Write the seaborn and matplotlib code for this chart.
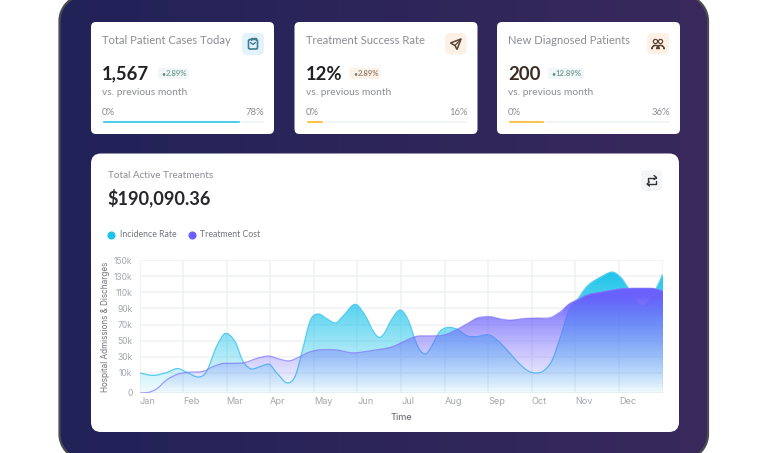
import numpy as np
import pandas as pd
import matplotlib.pyplot as plt
from matplotlib.patches import FancyBboxPatch, Polygon, Circle, Wedge, PathPatch
from matplotlib.path import Path
from matplotlib.colors import to_rgb
import seaborn as sns

# chart values (in thousands), x is in months from Jan = 0
incidence_x = [0, .31, .62, .87, 1.08, 1.35, 1.54, 1.77, 1.98, 2.19, 2.38, 2.59, 2.77, 2.96, 3.15, 3.40, 3.57, 3.72, 3.92, 4.11, 4.30, 4.49, 4.68, 4.95, 5.18, 5.37, 5.51, 5.64, 5.75, 5.98, 6.17, 6.33, 6.44, 6.56, 6.67, 6.79, 6.90, 7.10, 7.29, 7.52, 7.71, 7.98, 8.21, 8.44, 8.67, 8.90, 9.09, 9.28, 9.47, 9.66, 9.85, 10.05, 10.28, 10.59, 10.85, 11.05, 11.20, 11.35, 11.55, 11.72, 11.87, 12]
incidence = [10, 8.8, 10.5, 15.5, 11, 8, 12, 43, 59, 49, 24, 15, 18, 21, 10, 5, 8.3, 34, 75, 83, 77, 72, 81, 95, 81, 61, 54, 61, 73, 88, 75, 50, 38, 33.6, 40, 52, 62, 66.5, 64, 56, 55, 57.5, 50.6, 38, 24, 13, 10, 13, 26, 55, 87, 101, 118, 129, 135, 128, 116, 102, 93, 102, 116, 132]
cost_x = [0, .2, .39, .62, .89, 1.16, 1.46, 1.69, 1.96, 2.15, 2.42, 2.69, 2.96, 3.19, 3.42, 3.65, 3.92, 4.22, 4.53, 4.91, 5.30, 5.75, 5.98, 6.21, 6.44, 6.67, 6.98, 7.21, 7.52, 7.75, 8.02, 8.28, 8.51, 8.82, 9.13, 9.43, 9.66, 9.85, 10.05, 10.28, 10.58, 11.0, 11.43, 11.73, 12]
cost = [0, .3, 2, 6.5, 9.5, 11, 12, 18, 22, 22, 23, 28, 31, 27.5, 25, 29.5, 36.4, 39, 38.5, 35, 37.6, 41.7, 46.6, 52.7, 56, 56, 57, 62, 71, 78, 80, 77, 75.4, 77.5, 78, 78.7, 86, 95, 101, 107, 110, 114, 115, 115, 112]
months = ["Jan", "Feb", "Mar", "Apr", "May", "Jun", "Jul", "Aug", "Sep", "Oct", "Nov", "Dec"]
y_ticks = [0, 10, 30, 50, 70, 90, 110, 130, 150]
y_labels = ["0", "10k", "30k", "50k", "70k", "90k", "110k", "130k", "150k"]

card_titles = ["Total Patient Cases Today", "Treatment Success Rate", "New Diagnosed Patients"]
card_values = ["1,567", "12%", "200"]
card_changes = ["2.89%", "2.89%", "12.89%"]
card_right = ["78%", "16%", "36%"]
card_fill = [0.85, 0.105, 0.22]

CYAN = "#1ec4ea"
PURPLE = "#6a60fb"
GREY = "#8b8d92"
SANS = ["Lato", "DejaVu Sans"]
CHART = ["Inter", "DejaVu Sans"]

sns.set_theme(style="white")
W, H = 768, 453
fig = plt.figure(figsize=(W / 100, H / 100), dpi=100, facecolor="white")

# page axes in pixel coordinates
bg = fig.add_axes([0, 0, 1, 1], zorder=0)
bg.set_xlim(0, W)
bg.set_ylim(H, 0)
bg.axis("off")


def box(x0, y0, x1, y1, r, **kw):
    p = FancyBboxPatch((x0 + r, y0 + r), x1 - x0 - 2 * r, y1 - y0 - 2 * r,
                       boxstyle=f"round,pad={r},rounding_size={r}", **kw)
    bg.add_patch(p)
    return p


def rounded_outline(x0, y0, x1, y1, r):
    a = np.linspace(0, np.pi / 2, 16)
    c, s = np.cos(a), np.sin(a)
    return np.vstack([
        np.c_[x1 - r + r * c, y0 + r - r * s][::-1] * 1,
        np.c_[x1 - r + r * c, y1 - r + r * s],
        np.c_[x0 + r - r * s, y1 - r + r * c],
        np.c_[x0 + r - r * c, y0 + r - r * s],
    ])


outline = rounded_outline(59.5, -5, 708, 460, 26)
panel = Polygon(outline, closed=True, fc="none", ec="#4b4b52", lw=1.6, zorder=2)
bg.add_patch(panel)
left, right = np.array(to_rgb("#212258")), np.array(to_rgb("#39295c"))
t = np.linspace(0, 1, 200)[None, :, None]
grad = bg.imshow(left + (right - left) * t, extent=(59, 708, 460, -5), aspect="auto", zorder=1)
grad.set_clip_path(panel)
bg.set_xlim(0, W)
bg.set_ylim(H, 0)

# small cards
card_x = [91, 294.5, 497]
for i, x in enumerate(card_x):
    box(x, 22, x + 183, 134, 5, fc="white", ec="none", zorder=3)
    bg.text(x + 11, 41, card_titles[i], family=SANS, fontsize=8.15, color=GREY, va="center", zorder=5)
    bg.text(x + 11, 74, card_values[i], family=SANS, fontsize=13.3, weight="bold",
            color="#3a2c22" if i == 2 else "#222226", va="center", zorder=5)
    bg.text(x + 11, 92.5, "vs. previous month", family=SANS, fontsize=7.35, color=GREY, va="center", zorder=5)
    bg.text(x + 11, 112.5, "0%", family=SANS, fontsize=6.8, color=GREY, va="center", zorder=5)
    bg.text(x + 173, 112.5, card_right[i], family=SANS, fontsize=6.8, color=GREY, va="center", ha="right", zorder=5)
    tag_x = [158, 349.5, 548][i]
    tag_w = [31, 31, 36][i]
    box(tag_x, 68, tag_x + tag_w, 79, 2, fc="#fdf2e8" if i == 1 else "#f1f6f9", ec="none", zorder=4)
    bg.text(tag_x + 3.5, 73.5, "•", family=SANS, fontsize=5, color="#5b8a78", va="center", zorder=5)
    bg.text(tag_x + 8, 73.5, card_changes[i], family=SANS, fontsize=5.6, weight="bold",
            color="#9a8570" if i == 1 else "#7ba595", va="center", zorder=5)
    # progress bar
    bar = fig.add_axes([(x + 11) / W, 1 - 123.2 / H, 162 / W, 3 / H], zorder=4)
    bar.barh(0, 1, height=1, color="#f0f3f7")
    bar.barh(0, card_fill[i], height=1, color=CYAN if i == 0 else "#ffb41f")
    bar.set_xlim(0, 1)
    bar.set_ylim(-.5, .5)
    bar.axis("off")

# icons
box(242, 33, 264, 55, 5, fc="#e4f2fc", ec="none", zorder=4)
box(248.5, 39.5, 257.5, 49, 1.5, fc="none", ec="#3f7f94", lw=1.2, zorder=5)
bg.plot([250.5, 250.5, 255.5, 255.5], [39.5, 38, 38, 39.5], color="#3f7f94", lw=1, zorder=5)
bg.plot([250.5, 253, 255.5], [42.5, 44.5, 42.5], color="#3f7f94", lw=1, zorder=5)
box(445, 33, 466.5, 54.5, 5, fc="#fdf0e4", ec="none", zorder=4)
bg.add_patch(Polygon([[461, 39], [450.5, 43], [455, 45.5], [457, 49.5]], closed=True, fc="none", ec="#5a4436", lw=1.1, zorder=5))
bg.plot([455, 461], [45.5, 39], color="#5a4436", lw=0.9, zorder=5)
box(647, 33, 669, 54.5, 5, fc="#fdf0e4", ec="none", zorder=4)
for cx in (655.5, 660.5):
    bg.add_patch(Circle((cx, 41.5), 2.1, fc="none", ec="#5a4436", lw=0.9, zorder=5))
    bg.add_patch(Wedge((cx, 49), 3.6, 180, 360, width=0.01, fc="none", ec="#5a4436", lw=0.9, zorder=5))

# main card
box(91, 153.5, 679, 432, 10, fc="white", ec="none", zorder=3)
bg.text(107.5, 175.5, "Total Active Treatments", family=SANS, fontsize=7.1, color=GREY, va="center", zorder=5)
bg.text(107.5, 198, "$190,090.36", family=SANS, fontsize=13.1, weight="bold", color="#26262b", va="center", zorder=5)
box(641, 170, 662, 191, 4, fc="#f4f5f7", ec="none", zorder=4)
bg.plot([647.5, 647.5, 656], [180.5, 177.5, 177.5], color="#333338", lw=1, zorder=5)
bg.plot([654, 656.5, 654], [175.5, 177.5, 179.5], color="#333338", lw=1, zorder=5)
bg.plot([656, 656, 647.5], [181, 184, 184], color="#333338", lw=1, zorder=5)
bg.plot([649.5, 647, 649.5], [182, 184, 186], color="#333338", lw=1, zorder=5)

# legend
bg.scatter([111], [234.5], s=34, color=CYAN, linewidths=0, zorder=5)
bg.text(120, 234.8, "Incidence Rate", family=SANS, fontsize=6.3, color="#74767c", va="center", zorder=5)
bg.scatter([191.5], [234.5], s=34, color=PURPLE, linewidths=0, zorder=5)
bg.text(200, 234.8, "Treatment Cost", family=SANS, fontsize=6.3, color="#74767c", va="center", zorder=5)

# chart
ax = fig.add_axes([139.5 / W, 1 - 393 / H, 523 / W, 133 / H], zorder=6)
ax.patch.set_alpha(0)


def fwd(v):
    return np.interp(v, [0, 10, 150], [0, 20, 133])


def inv(p):
    return np.interp(p, [0, 20, 133], [0, 10, 150])


ax.set_yscale("function", functions=(fwd, inv))
ax.set_xlim(0, 12)
ax.set_ylim(0, 150)

df = pd.concat([
    pd.DataFrame({"month": incidence_x, "value": incidence, "series": "Incidence Rate"}),
    pd.DataFrame({"month": cost_x, "value": cost, "series": "Treatment Cost"}),
])
line_colors = {"Incidence Rate": "#55cdee", "Treatment Cost": "#8076fb"}
sns.lineplot(data=df, x="month", y="value", hue="series", estimator=None, sort=False, legend=False,
             palette=line_colors, linewidth=0.9, ax=ax, zorder=4)


def curve_through(xs, ys):
    # bezier path through the plotted points, flat at peaks and dips
    x = np.asarray(xs, float)
    y = fwd(np.asarray(ys, float))
    d = np.diff(y) / np.diff(x)
    m = np.zeros(len(x))
    m[0], m[-1] = d[0], d[-1]
    for i in range(1, len(x) - 1):
        if d[i - 1] * d[i] > 0:
            m[i] = (y[i + 1] - y[i - 1]) / (x[i + 1] - x[i - 1])
    verts, codes = [(x[0], y[0])], [Path.MOVETO]
    for i in range(len(x) - 1):
        dx = x[i + 1] - x[i]
        verts += [(x[i] + dx / 3, y[i] + m[i] * dx / 3), (x[i + 1] - dx / 3, y[i + 1] - m[i + 1] * dx / 3),
                  (x[i + 1], y[i + 1])]
        codes += [Path.CURVE4] * 3
    verts = np.array(verts)
    verts[:, 1] = inv(verts[:, 1])
    return verts, codes


def gradient_area(verts, codes, color, alpha_fn, z):
    edges = np.linspace(0, 150, 134)
    h = fwd((edges[:-1] + edges[1:]) / 2) / 133
    rgba = np.zeros((133, 1, 4))
    rgba[:, 0, :3] = to_rgb(color)
    rgba[:, 0, 3] = np.clip(alpha_fn(h), 0, 1)
    mesh = ax.pcolormesh([0, 12], edges, rgba, zorder=z, shading="flat", linewidth=0)
    closed = np.vstack([verts, [[12, 0], [0, 0], [0, 0]]])
    area = Path(closed, codes + [Path.LINETO, Path.LINETO, Path.CLOSEPOLY])
    mesh.set_clip_path(area, ax.transData)


# seaborn's polylines carry the data, draw them as smooth curves like the original
# the cyan outline sits under the purple fill, so it vanishes where that fill is opaque
alpha_fns = [lambda h: 0.05 + 1.05 * h, lambda h: 1.15 * h + 0.6 * h ** 4]
line_z = [2.5, 4]
line_alpha = [1, 0.7]
for k, line in enumerate(list(ax.lines)):
    xy = line.get_xydata()
    verts, codes = curve_through(xy[:, 0], xy[:, 1])
    gradient_area(verts, codes, [CYAN, PURPLE][k], alpha_fns[k], 2 + k)
    ax.add_patch(PathPatch(Path(verts, codes), fc="none", ec=line.get_color(), lw=0.9,
                           alpha=line_alpha[k], zorder=line_z[k]))
    line.set_visible(False)
ax.set_xlim(0, 12)
ax.set_ylim(0, 150)

ax.set_xticks(range(13))
ax.set_xticklabels(months + [""], family=CHART, fontsize=6.6, color="#a3a6ad", ha="left")
ax.set_yticks(y_ticks)
ax.set_yticklabels(y_labels, family=CHART, fontsize=6.2, color="#a3a6ad")
ax.tick_params(axis="y", length=0, pad=5)
ax.tick_params(axis="x", length=0, pad=3)
ax.grid(True, color="#f0f1f4", lw=1.1, zorder=0)
ax.set_axisbelow(True)
sns.despine(ax=ax, left=True, bottom=True)
ax.set_xlabel("")
ax.set_ylabel("")
bg.text(105, 327, "Hospital Admissions & Discharges", family=CHART, fontsize=5.85, color="#6f7177",
        rotation=90, ha="center", va="center", zorder=5)
bg.text(401.5, 418, "Time", family=CHART, fontsize=6.6, weight="medium", color="#6f7177",
        ha="center", va="center", zorder=5)

fig.savefig("out.png", dpi=100)
